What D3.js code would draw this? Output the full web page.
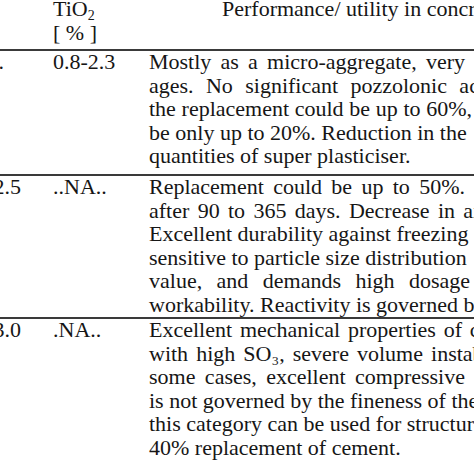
<!DOCTYPE html>
<html>
<head>
<meta charset="utf-8">
<script src="https://cdn.jsdelivr.net/npm/d3@7"></script>
<style>
  html, body { margin: 0; padding: 0; background: #fff; overflow: hidden; }
  text { font-family: "Liberation Serif", "Times New Roman", serif; font-size: 22px; fill: #161616; }
  .rule { stroke: #3a3a3a; stroke-width: 2; }
</style>
</head>
<body>
<div id="table"></div>
<script>
// Table contents
var headerTiO2 = ["TiO", "[ % ]"];
var headerPerf = "Performance/ utility in concrete";
var col1 = ["..NA..", "1.0-2.5", "1.5-3.0"];
var col2 = ["0.8-2.3", "..NA..", ".NA.."];
var perfRows = [
  [
    ["Mostly as a micro-aggregate, very", "low"],
    ["ages. No significant pozzolonic", "activity."],
    ["the replacement could be up to 60%,", "but"],
    ["be only up to 20%. Reduction in", "the"],
    ["quantities of super plasticiser.", null]
  ],
  [
    ["Replacement could be up to 50%.", "Strength"],
    ["after 90 to 365 days. Decrease in", "air"],
    ["Excellent durability against freezing", "and"],
    ["sensitive to particle size", "distribution"],
    ["value, and demands high dosage", "of"],
    ["workability. Reactivity is governed", "by"]
  ],
  [
    ["Excellent mechanical properties of", "concrete"],
    ["with high SO\u2083, severe volume", "instability"],
    ["some cases, excellent compressive", "and"],
    ["is not governed by the fineness of", "the"],
    ["this category can be used for", "structural"],
    ["40% replacement of cement.", null]
  ]
];

// Layout (where each justified line's last full word ends)
var lineEnds = [
  [465, 447, 472, 433, null],
  [465, 455, 465, 337, 470, 437],
  [462, 423, 465, 445, 398, null]
];
var col1End = [4, 21, 21];
var rowTops = [50, 175, 318];

var width = 474, height = 474;
var lineStep = 23.6;
var colX = { c2: 53, c3: 149 };

var svg = d3.select("#table").append("svg")
  .attr("width", width).attr("height", height);

// Header
var tio = svg.append("text").attr("x", colX.c2).attr("y", 16);
tio.append("tspan").text(headerTiO2[0]);
tio.append("tspan").attr("font-size", "14px").attr("dy", 4).text("2");
svg.append("text").attr("x", colX.c2).attr("y", 40).text(headerTiO2[1]);
svg.append("text").attr("x", 222).attr("y", 16).text(headerPerf);

// Rules
svg.selectAll("line.rule").data(rowTops).enter().append("line")
  .attr("class", "rule")
  .attr("x1", 0).attr("x2", width)
  .attr("y1", d => d).attr("y2", d => d);

perfRows.forEach(function(rows, r) {
  var y = d3.scaleLinear().domain([0, 1]).range([rowTops[r] + 19, rowTops[r] + 19 + lineStep]);

  svg.append("text").attr("x", col1End[r]).attr("y", y(0))
    .attr("text-anchor", "end").text(col1[r]);
  svg.append("text").attr("x", colX.c2).attr("y", y(0)).text(col2[r]);

  rows.forEach(function(line, i) {
    var t = svg.append("text").attr("x", colX.c3).attr("y", y(i)).text(line[0]);
    var end = lineEnds[r][i];
    if (end == null) return;
    var natural = t.node().getComputedTextLength();
    var gaps = line[0].split(" ").length - 1;
    var extra = gaps > 0 ? (colX.c3 + natural < end ? (end - colX.c3 - natural) / gaps : 0) : 0;
    t.attr("word-spacing", extra);
    if (line[1]) t.text(line[0] + " " + line[1]);
  });
});
</script>
</body>
</html>
